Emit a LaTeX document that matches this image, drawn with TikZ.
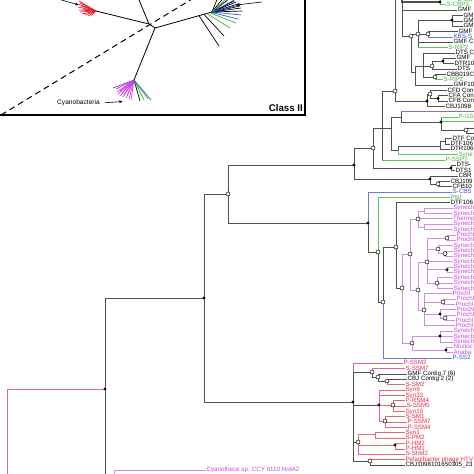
\documentclass[tikz,border=0pt]{standalone}
\usepackage{fontspec}
\setmainfont{Liberation Sans}
\usetikzlibrary{arrows.meta}
\definecolor{gline}{RGB}{80,80,80}
\definecolor{rline}{RGB}{228,105,120}
\definecolor{mline}{RGB}{208,140,232}
\definecolor{grline}{RGB}{90,200,90}
\definecolor{bline}{RGB}{110,120,222}
\definecolor{rtext}{RGB}{230,45,65}
\definecolor{mtext}{RGB}{200,70,225}
\definecolor{gtext}{RGB}{70,180,70}
\definecolor{btext}{RGB}{60,80,220}
\definecolor{fanred}{RGB}{230,30,45}
\definecolor{fanmag}{RGB}{215,60,230}
\definecolor{fangreen}{RGB}{60,180,60}
\definecolor{fanblue}{RGB}{50,90,210}
\tikzset{
 gl/.style={draw=gline,line width=0.8pt,line cap=rect},
 rl/.style={draw=rline,line width=0.8pt,line cap=rect},
 ml/.style={draw=mline,line width=0.8pt,line cap=rect},
 grl/.style={draw=grline,line width=0.8pt,line cap=rect},
 bl/.style={draw=bline,line width=0.8pt,line cap=rect},
 lab/.style={anchor=west,inner sep=0.4pt,font=\fontsize{6.2}{6.2}\selectfont,text height=4.4pt,text depth=1.2pt},
 fnode/.style={circle,fill=black,inner sep=0pt,minimum size=3.2pt},
 onode/.style={circle,draw=black,fill=white,line width=0.5pt,inner sep=0pt,minimum size=4pt},
 ink/.style={draw=black,line width=0.8pt},
 arr/.style={draw=black,line width=0.6pt,-{Latex[length=3.5pt,width=3pt]}},
}
\newcommand\leafn[5]{\node[lab,text=#4] (#1) at (#2,{5.35*#3-0.5}) {#5};}
\newcommand\leafx[2]{\node[inner sep=0pt,minimum size=0pt] (#1) at (476,{5.35*#2-0.5}) {};}
\newcommand\leafe[4]{\draw[#1] (#3) -- (#3 |- #4.west);\draw[#2] (#3 |- #4.west) -- (#4.west);}
\newcommand\mkf[1]{\node[fnode] (m#1) at (#1) {};}
\newcommand\mko[1]{\node[onode] (m#1) at (#1) {};}
\begin{document}
\begin{tikzpicture}[x=1pt,y=-1pt]
\useasboundingbox (0,0) rectangle (474,474);
\clip (0,0) rectangle (474,474);
\fill[white] (0,0) rectangle (474,474);

% ================= INSET =================
\coordinate (bxa) at (-5,115);
\coordinate (bxb) at (305,115);
\coordinate (bxc) at (305,-5);
\draw[line width=1.1pt] (bxa) -- (bxb) -- (bxc);
\coordinate (dsa) at (1,115);
\coordinate (dsb) at (197,-4);
\draw[line width=1pt,dash pattern=on 6pt off 4pt] (dsa) -- (dsb);

\coordinate (n1) at (149,24);
\coordinate (n2) at (155,28);
\coordinate (rf) at (96,11);
\coordinate (up0) at (137,-5);
\coordinate (rt) at (212,12);
\coordinate (dn) at (134,80);
\draw[ink] (n1) -- (rf);
\draw[ink] (n1) -- (up0);
\draw[ink] (n1) -- (n2);
\draw[ink] (n2) -- (rt);
\draw[ink] (n2) -- (dn);
% red fan
\foreach \p in {(79,1),(78,4),(78,7),(79,10),(80,12),(82,14),(85,15),(88,16),(91,16),(81,6),(83,9),(80,3)}
  \draw[fanred,line width=0.7pt] (rf) -- \p;
% right fan
\draw[ink,line width=0.7pt] (199,15.7) -- (219,46);
\draw[ink,line width=0.7pt] (204,14.4) -- (224,36);
\draw[fangreen,line width=0.7pt] (207,13.6) -- (230,28);
\draw[fangreen,line width=0.7pt] (210,12.8) -- (236,23);
\draw[fanblue,line width=0.7pt] (211,12.3) -- (238,19);
\draw[fanblue,line width=0.7pt] (212,12) -- (241,15);
\foreach \p in {(242,11),(241,8),(238,4),(234,1),(230,-2),(224,-3),(218,-3),(240,6),(236,2)}
  \draw[black,line width=0.7pt] (rt) -- \p;
\draw[fangreen,line width=0.7pt] (rt) -- (228,-3);
\draw[fanblue,line width=0.7pt] (rt) -- (236,-1);
\draw[fanblue,line width=0.7pt] (rt) -- (239,5);
% down fan
\draw[fanblue,line width=0.7pt] (dn) -- (113,88);
\foreach \p in {(116,89),(117,92),(118,94),(120,96),(123,97),(126,98),(129,99),(131,100),(120,91),(124,95),(122,93),(127,96)}
  \draw[fanmag,line width=0.7pt] (dn) -- \p;
\draw[black,line width=0.7pt] (dn) -- (140,101);
\draw[fangreen,line width=0.7pt] (dn) -- (144,100);
\draw[fangreen,line width=0.7pt] (dn) -- (148,99);
\draw[fanblue,line width=0.7pt] (dn) -- (151,100);
% texts and arrows
\node[font=\fontsize{6.6}{7}\selectfont,inner sep=1pt] (cyano) at (78.5,103) {Cyanobacteria};
\coordinate (cyarr) at (123,101.5);
\draw[arr,shorten <=4pt] (cyano.east) -- (cyarr);
\coordinate (a1s) at (262,2);
\coordinate (a1e) at (236,5);
\draw[arr] (a1s) -- (a1e);
\coordinate (a2s) at (58,-1);
\coordinate (a2e) at (79,5);
\draw[arr] (a2s) -- (a2e);
\node[font=\bfseries\fontsize{9.7}{10}\selectfont,anchor=base east,inner sep=0pt] (cls) at (303,111.5) {Class II};

% ================= LEAVES =================
\leafn{l0}{457}{0}{gtext}{S-CB}
\leafn{l1}{446}{1}{gtext}{S-CBP3}
\leafn{l2}{457}{2}{black}{GMF}
\leafn{l3}{463}{3}{black}{GM}
\leafn{l4}{463}{4}{black}{GM}
\leafn{l5}{463}{5}{black}{GM}
\leafn{l6}{458}{6}{black}{GMF}
\leafn{l7}{453}{7}{btext}{KBS-S}
\leafn{l8}{453}{8}{black}{GMF C}
\leafn{l9}{448}{9}{gtext}{S-RIP2}
\leafn{l10}{455}{10}{black}{DTS C}
\leafn{l11}{456}{11}{black}{GMF}
\leafn{l12}{454}{12}{black}{DTR10}
\leafn{l13}{457}{13}{black}{DTS}
\leafn{l14}{446}{14}{black}{CBB019C}
\leafn{l15}{443}{15}{gtext}{S-RIP1}
\leafn{l16}{453}{16}{black}{GMF10}
\leafn{l17}{447}{17}{black}{CFD Con}
\leafn{l18}{448}{18}{black}{CFA Con}
\leafn{l19}{448}{19}{black}{CFB Con}
\leafn{l20}{445}{20}{black}{CBJ1098}
\leafx{l21}{21}
\leafn{l22}{458}{22}{gtext}{P-GS}
\leafx{l23}{22.8}
\leafx{l24}{24}
\leafx{l25}{25}
\leafn{l26}{452}{26}{black}{DTF Co}
\leafn{l27}{450}{27}{black}{DTF106}
\leafn{l28}{450}{28}{black}{DTR106}
\leafn{l29}{458}{29}{gtext}{Syne}
\leafn{l30}{445}{30}{gtext}{P-SSP7}
\leafn{l31}{456}{31}{black}{DTS-}
\leafn{l32}{455}{32}{black}{DTS1}
\leafn{l33}{458}{33}{black}{CBR}
\leafn{l34}{450}{34}{black}{CBJ109}
\leafn{l35}{452}{35}{black}{CFB10}
\leafn{l36}{452}{36}{btext}{S-CBS}
\leafn{l37}{450}{37}{gtext}{P60}
\leafn{l38}{450}{38}{black}{DTF106}
\leafn{l39}{453}{39}{mtext}{Synech}
\leafn{l40}{453}{40}{mtext}{Synech}
\leafn{l41}{452.5}{41}{mtext}{Thermo}
\leafn{l42}{453}{42}{mtext}{Synech}
\leafn{l43}{453}{43}{mtext}{Synech}
\leafn{l44}{456}{44}{mtext}{Prochl}
\leafn{l45}{456}{45}{mtext}{Prochl}
\leafn{l46}{453}{46}{mtext}{Synech}
\leafn{l47}{453}{47}{mtext}{Synech}
\leafn{l48}{453}{48}{mtext}{Synech}
\leafn{l49}{453}{49}{mtext}{Synech}
\leafn{l50}{453}{50}{mtext}{Synech}
\leafn{l51}{453}{51}{mtext}{Synech}
\leafn{l52}{453}{52}{mtext}{Synech}
\leafn{l53}{453}{53}{mtext}{Synech}
\leafn{l54}{453}{54}{mtext}{Synech}
\leafn{l55}{452}{55}{mtext}{Prochl}
\leafn{l56}{456}{56}{mtext}{Prochl}
\leafn{l57}{455}{57}{mtext}{Prochl}
\leafn{l58}{456}{58}{mtext}{Prochl}
\leafn{l59}{456}{59}{mtext}{Prochl}
\leafn{l60}{455}{60}{mtext}{Prochl}
\leafn{l61}{455}{61}{mtext}{Prochl}
\leafn{l62}{453}{62}{mtext}{Synech}
\leafn{l63}{453}{63}{mtext}{Synech}
\leafn{l64}{453}{64}{mtext}{Synech}
\leafn{l65}{453}{65}{mtext}{Nostoc}
\leafn{l66}{453}{66}{mtext}{Anaba}
\leafn{l67}{452}{67}{btext}{P-SS2}
\leafn{l68}{403}{68}{rtext}{P-SSM2}
\leafn{l69}{405}{69}{rtext}{S-SSM7}
\leafn{l70}{407}{70}{black}{GMF Contig 7 (6)}
\leafn{l71}{407}{71}{black}{CBJ Contig 2 (2)}
\leafn{l72}{405}{72}{rtext}{S-SM2}
\leafn{l73}{405}{73}{rtext}{Syn9}
\leafn{l74}{405}{74}{rtext}{Syn33}
\leafn{l75}{405}{75}{rtext}{P-RSM4}
\leafn{l76}{406}{76}{rtext}{S-SSM5}
\leafn{l77}{405}{77}{rtext}{Syn19}
\leafn{l78}{405}{78}{rtext}{S-SM1}
\leafn{l79}{407}{79}{rtext}{P-SSM7}
\leafn{l80}{407}{80}{rtext}{P-SSM4}
\leafn{l81}{405}{81}{rtext}{Syn1}
\leafn{l82}{405}{82}{rtext}{S-PM2}
\leafn{l83}{405}{83}{rtext}{P-HM2}
\leafn{l84}{405}{84}{rtext}{P-HM1}
\leafn{l85}{405}{85}{rtext}{S-ShM2}
\leafn{l86}{405}{86}{rtext}{Pelagibacter phage HTV}
\leafn{l87}{405}{87}{black}{CBJ1098101650305\_23}
\leafn{l88}{206}{88}{mtext}{Cyanothece sp. CCY 0110 NrdA2}

% ================= INTERNAL NODES =================
\coordinate (Rt0) at (7,480);
\coordinate (A) at (105,389);
\coordinate (Ad) at (105,480);
\coordinate (B) at (204,298);
\coordinate (C) at (228,194);
\coordinate (R) at (353,402);
\coordinate (Cy0) at (114,480);
\coordinate (D) at (354,165);
\coordinate (E) at (368,223);
\coordinate (D1) at (373,148);
\coordinate (D2) at (430,179);
\coordinate (D21) at (438,184);
\coordinate (U) at (451,168);
\coordinate (D11) at (382,128);
\coordinate (S1) at (395,91);
\coordinate (S1top) at (395,-8);
\coordinate (V) at (427,101);
\coordinate (V1) at (430,94);
\coordinate (V2) at (438,98.5);
\coordinate (Xtop) at (402,-8);
\coordinate (Y) at (440,2);
\coordinate (W) at (411,36);
\coordinate (Wa) at (418,34);
\coordinate (G1) at (452,20);
\coordinate (Z2) at (428,34);
\coordinate (Wb) at (415,72);
\coordinate (Wc) at (423,66);
\coordinate (Wd) at (432,66);
\coordinate (We) at (443,61);
\coordinate (Wf) at (435,77);
\coordinate (S2) at (391,128);
\coordinate (S21) at (401,117);
\coordinate (S211) at (441,122);
\coordinate (S212) at (466,130);
\coordinate (S22) at (398,150);
\coordinate (T1) at (440,146);
\coordinate (T2) at (445,141);
\coordinate (F) at (378,252);
\coordinate (G) at (383,302);
\coordinate (H) at (396,247);
\coordinate (I) at (402,288);
\coordinate (J) at (410,254);
\coordinate (K) at (418,219);
\coordinate (Ka) at (424,211);
\coordinate (Kb) at (424,227);
\coordinate (L) at (418,290);
\coordinate (M) at (427,262);
\coordinate (Ma) at (447,238);
\coordinate (Mb) at (438,249);
\coordinate (Mc) at (445,253.6);
\coordinate (Md) at (447,269.7);
\coordinate (Me) at (437,283);
\coordinate (N) at (424,310);
\coordinate (Na) at (443,302);
\coordinate (Nb) at (440,314);
\coordinate (Nc) at (445,318);
\coordinate (O) at (412,343);
\coordinate (P) at (440,336);
\coordinate (Q) at (446,350);
\coordinate (Ra) at (372,372);
\coordinate (Rb) at (378,377);
\coordinate (Rbb) at (387,381);
\coordinate (Rc) at (379,405);
\coordinate (Rca) at (393,405);
\coordinate (Rcb) at (385,421);
\coordinate (Rd) at (358,442);
\coordinate (Rda) at (375,434.5);
\coordinate (Rdb) at (395,445);
\coordinate (Rf) at (370,461);

% ================= EDGES =================
\draw[rl] (Rt0) |- (A);
\draw[gl] (A) -- (Ad);
\draw[gl] (A) |- (B);
\draw[gl] (B) |- (C);
\draw[gl] (B) |- (R);
\leafe{ml}{ml}{Cy0}{l88}
\draw[gl] (C) |- (D);
\draw[gl] (C) |- (E);
% D clade
\draw[gl] (D) |- (D1);
\draw[gl] (D) |- (D2);
\draw[gl] (D1) |- (D11);
\draw[gl] (D1) |- (U);
\leafe{gl}{gl}{U}{l31}
\leafe{gl}{gl}{U}{l32}
\leafe{gl}{gl}{D2}{l33}
\draw[gl] (D2) |- (D21);
\leafe{gl}{gl}{D21}{l34}
\leafe{gl}{gl}{D21}{l35}
\draw[gl] (D11) |- (S1);
\draw[gl] (D11) |- (S2);
\leafe{gl}{grl}{D11}{l30}
% S1 clade
\draw[gl] (S1) -- (S1top);
\draw[gl] (S1) |- (V);
\draw[gl] (V) |- (V1);
\leafe{gl}{gl}{V}{l20}
\leafe{gl}{gl}{V1}{l17}
\draw[gl] (V1) |- (V2);
\leafe{gl}{gl}{V2}{l18}
\leafe{gl}{gl}{V2}{l19}
% X clade
\draw[gl,line width=1.3pt] (Xtop) |- (Y);
\draw[gl] (Xtop) |- (W);
\leafe{gl}{gl}{Xtop}{l2}
\leafe{grl}{grl}{Y}{l0}
\leafe{grl}{grl}{Y}{l1}
\draw[gl] (W) |- (Wa);
\draw[gl] (W) |- (Wb);
\draw[gl] (Wa) |- (G1);
\draw[gl] (Wa) |- (Z2);
\leafe{gl}{gl}{Wa}{l8}
\leafe{gl}{grl}{Wa}{l9}
\leafe{gl}{gl}{G1}{l3}
\leafe{gl}{gl}{G1}{l4}
\leafe{gl}{gl}{G1}{l5}
\leafe{gl}{gl}{Z2}{l6}
\leafe{gl}{bl}{Z2}{l7}
\draw[gl] (Wb) |- (Wc);
\leafe{gl}{gl}{Wb}{l16}
\leafe{gl}{gl}{Wc}{l10}
\draw[gl] (Wc) |- (Wd);
\draw[gl] (Wc) |- (Wf);
\draw[gl] (Wd) |- (We);
\leafe{gl}{gl}{Wd}{l13}
\leafe{gl}{gl}{We}{l11}
\leafe{gl}{gl}{We}{l12}
\leafe{gl}{gl}{Wf}{l14}
\leafe{gl}{grl}{Wf}{l15}
% S2 clade
\draw[gl] (S2) |- (S21);
\draw[gl] (S2) |- (S22);
\leafe{gl}{bl}{S21}{l21}
\draw[gl] (S21) |- (S211);
\leafe{gl}{grl}{S211}{l22}
\leafe{gl}{grl}{S211}{l23}
\draw[gl] (S211) |- (S212);
\leafe{gl}{gl}{S212}{l24}
\leafe{gl}{gl}{S212}{l25}
\draw[gl] (S22) |- (T1);
\leafe{grl}{grl}{S22}{l29}
\draw[gl] (T1) |- (T2);
\leafe{gl}{gl}{T1}{l28}
\leafe{gl}{gl}{T2}{l26}
\leafe{gl}{gl}{T2}{l27}
% E clade
\leafe{bl}{bl}{E}{l36}
\draw[gl] (E) |- (F);
\leafe{grl}{grl}{F}{l37}
\draw[gl] (F) |- (G);
\draw[gl] (G) |- (H);
\leafe{bl}{bl}{G}{l67}
\leafe{gl}{gl}{H}{l38}
\draw[gl] (H) |- (I);
% magenta clade
\draw[ml] (I) |- (J);
\draw[ml] (I) |- (O);
\draw[ml] (J) |- (K);
\draw[ml] (J) |- (L);
\draw[ml] (K) |- (Ka);
\draw[ml] (K) |- (Kb);
\leafe{ml}{ml}{K}{l41}
\leafe{ml}{ml}{Ka}{l39}
\leafe{ml}{ml}{Ka}{l40}
\leafe{ml}{ml}{Kb}{l42}
\leafe{ml}{ml}{Kb}{l43}
\draw[ml] (L) |- (M);
\draw[ml] (L) |- (N);
\draw[ml] (M) |- (Ma);
\draw[ml] (M) |- (Mb);
\draw[ml] (M) |- (Md);
\draw[ml] (M) |- (Me);
\leafe{ml}{ml}{M}{l49}
\leafe{ml}{ml}{Ma}{l44}
\leafe{ml}{ml}{Ma}{l45}
\leafe{ml}{ml}{Mb}{l46}
\draw[ml] (Mb) |- (Mc);
\leafe{ml}{ml}{Mc}{l47}
\leafe{ml}{ml}{Mc}{l48}
\leafe{ml}{ml}{Md}{l50}
\leafe{ml}{ml}{Md}{l51}
\leafe{ml}{ml}{Me}{l52}
\leafe{ml}{ml}{Me}{l53}
\leafe{ml}{ml}{Me}{l54}
\leafe{ml}{ml}{N}{l55}
\draw[ml] (N) |- (Na);
\draw[ml] (N) |- (Nb);
\leafe{ml}{ml}{N}{l61}
\leafe{ml}{ml}{Na}{l56}
\leafe{ml}{ml}{Na}{l57}
\leafe{ml}{ml}{Nb}{l58}
\draw[ml] (Nb) |- (Nc);
\leafe{ml}{ml}{Nc}{l59}
\leafe{ml}{ml}{Nc}{l60}
\draw[ml] (O) |- (P);
\draw[ml] (O) |- (Q);
\leafe{ml}{ml}{P}{l62}
\leafe{ml}{ml}{P}{l63}
\leafe{ml}{ml}{P}{l64}
\leafe{ml}{ml}{Q}{l65}
\leafe{ml}{ml}{Q}{l66}
% red clade
\leafe{rl}{rl}{R}{l68}
\draw[gl] (R) |- (Ra);
\draw[gl] (R) |- (Rc);
\draw[gl] (R) |- (Rd);
\draw[gl] (R) |- (Rf);
\leafe{rl}{rl}{Ra}{l69}
\draw[gl] (Ra) |- (Rb);
\leafe{gl}{gl}{Rb}{l70}
\draw[gl] (Rb) |- (Rbb);
\leafe{gl}{gl}{Rbb}{l71}
\leafe{rl}{rl}{Rbb}{l72}
\leafe{rl}{rl}{Rc}{l73}
\leafe{rl}{rl}{Rc}{l74}
\draw[rl] (Rc) |- (Rca);
\draw[rl] (Rc) |- (Rcb);
\leafe{rl}{rl}{Rca}{l75}
\leafe{rl}{rl}{Rca}{l76}
\leafe{rl}{rl}{Rca}{l77}
\leafe{rl}{rl}{Rcb}{l78}
\leafe{rl}{rl}{Rcb}{l79}
\leafe{rl}{rl}{Rcb}{l80}
\draw[rl] (Rd) |- (Rda);
\draw[rl] (Rd) |- (Rdb);
\leafe{rl}{rl}{Rd}{l85}
\leafe{rl}{rl}{Rda}{l81}
\leafe{rl}{rl}{Rda}{l82}
\leafe{rl}{rl}{Rdb}{l83}
\leafe{rl}{rl}{Rdb}{l84}
\leafe{rl}{rl}{Rf}{l86}
\leafe{gl}{gl}{Rf}{l87}

% ================= MARKERS =================
\mkf{A}\mkf{B}\mkf{D}\mkf{E}\mkf{D2}\mkf{U}\mkf{V}\mkf{V2}\mkf{G1}\mkf{Y}\mkf{We}
\mkf{S211}\mkf{Md}\mkf{Nb}\mkf{P}\mkf{Q}\mkf{R}\mkf{Rc}\mkf{Rdb}
\mko{C}\mko{D1}\mko{D21}\mko{S1}\mko{V1}\mko{W}\mko{Wa}\mko{Z2}\mko{Wd}\mko{Wf}
\mko{S212}\mko{F}\mko{G}\mko{H}\mko{I}\mko{J}\mko{K}\mko{L}\mko{M}\mko{Ma}\mko{Mb}
\mko{Mc}\mko{Me}\mko{N}\mko{Na}\mko{Nc}\mko{O}\mko{Ra}\mko{Rb}\mko{Rbb}\mko{Rca}
\mko{Rcb}\mko{Rd}\mko{Rf}
\end{tikzpicture}
\end{document}
